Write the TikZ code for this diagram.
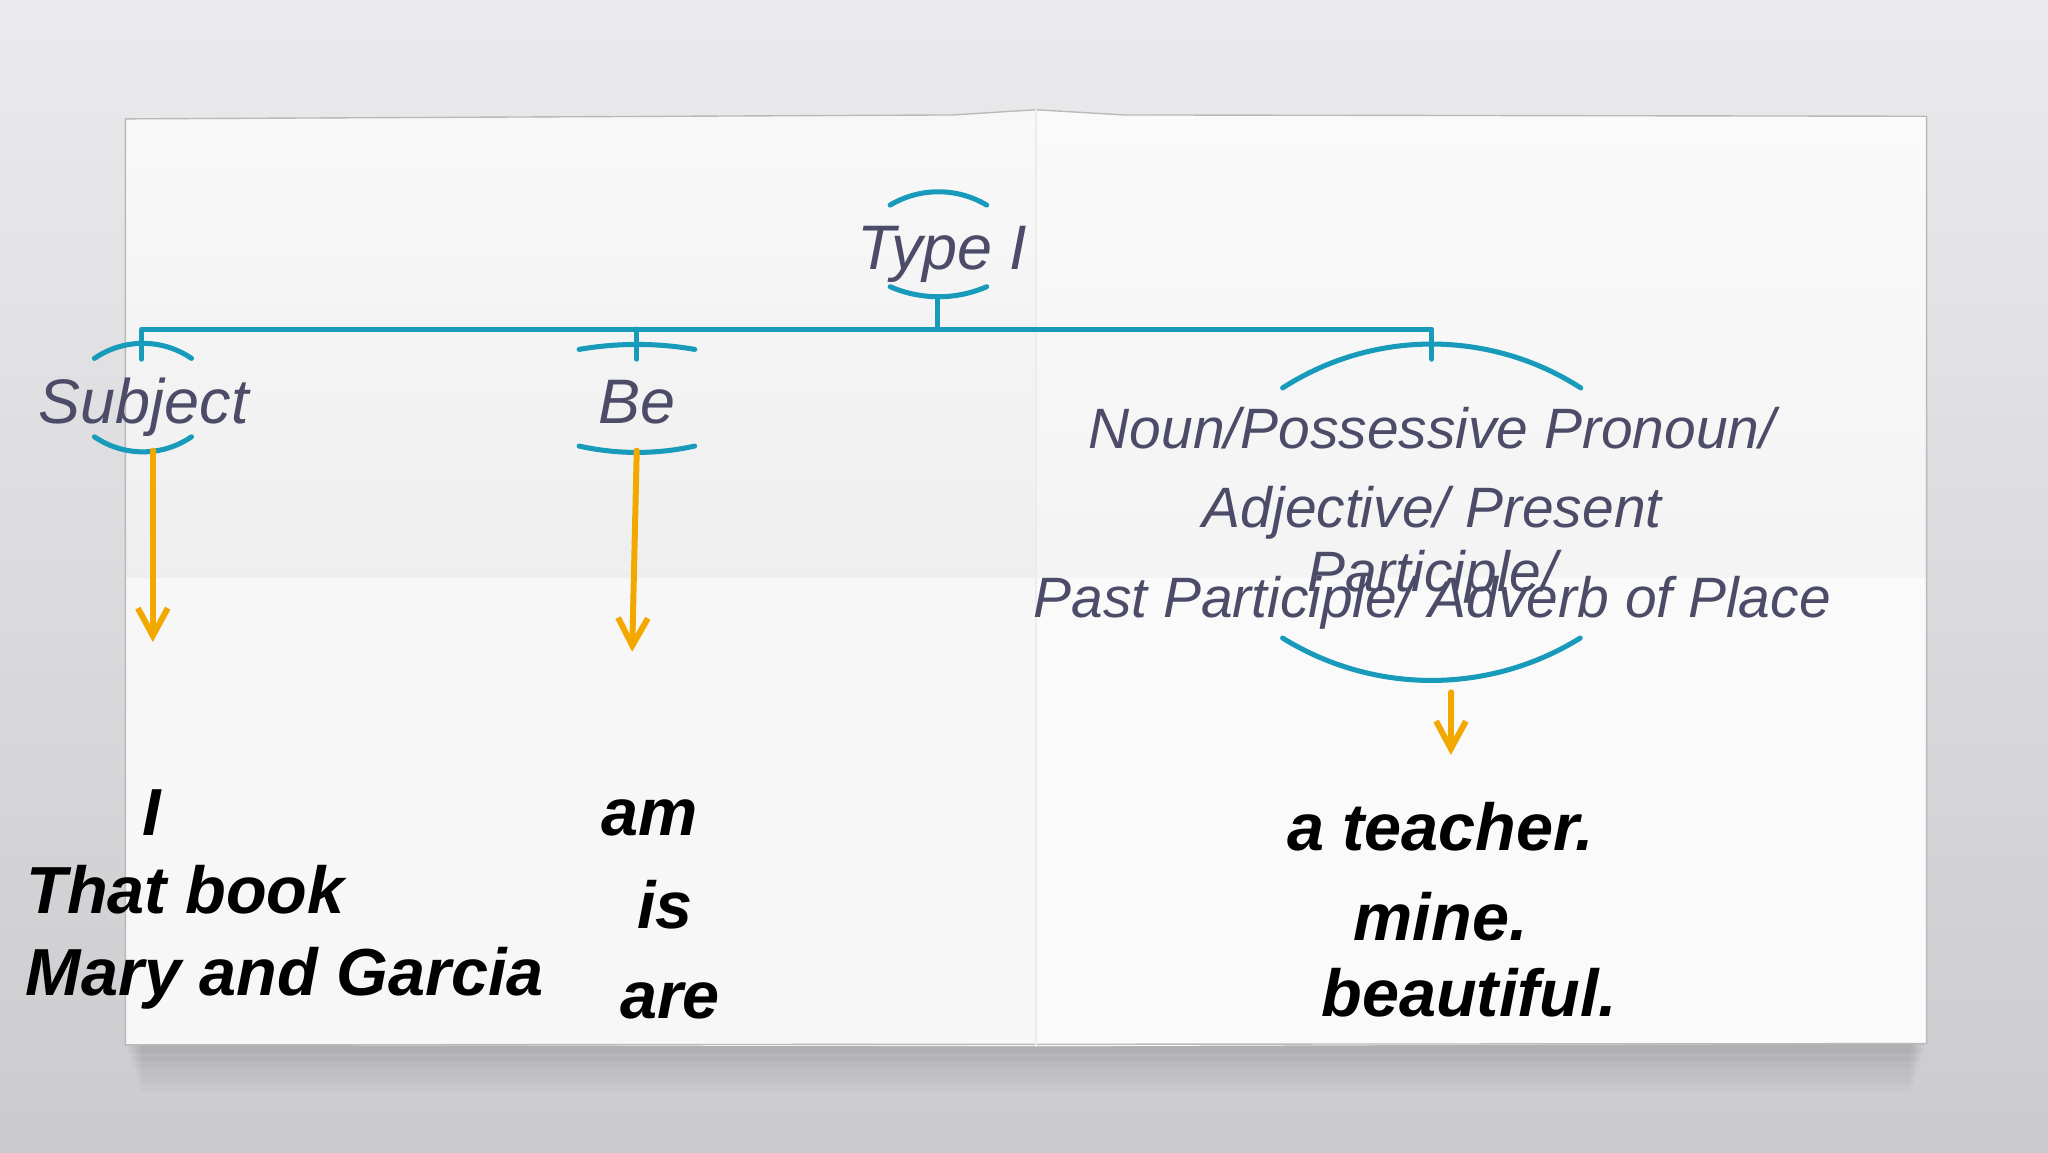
\documentclass[tikz,border=0pt]{standalone}
\usepackage{fontspec}
\setmainfont{Liberation Sans}
\usetikzlibrary{arrows.meta}
\definecolor{lineteal}{RGB}{24,155,186}
\definecolor{arrowgold}{RGB}{243,168,0}
\definecolor{labelslate}{RGB}{76,76,104}
\definecolor{deskgray}{RGB}{226,226,230}
\tikzset{
  brace/.style={lineteal, line width=1.1pt},
  tree/.style={lineteal, line width=1.1pt},
  pointer/.style={arrowgold, line width=1.3pt, -{Straight Barb[length=6pt,width=6.5pt]}},
  head/.style={labelslate, font=\fontsize{13.7}{16}\selectfont\itshape, anchor=base, inner sep=0pt},
  subhead/.style={labelslate, font=\fontsize{12.4}{15}\selectfont\itshape, anchor=base, inner sep=0pt},
  word/.style={black, font=\fontsize{14.5}{17}\selectfont\bfseries\itshape, anchor=base, inner sep=0pt},
}
\begin{document}
\begin{tikzpicture}[line join=round, line cap=round]
  % desk and paper
  \useasboundingbox (0,0) rectangle (15.68,8.82);
  \shade[top color=deskgray!70!white, bottom color=deskgray!90!black] (0,0) rectangle (15.68,8.82);
  \foreach \d in {0.36,0.30,0.24,0.18,0.12,0.06} \fill[black, opacity=0.025] (0.96+\d/3,0.82-\d) rectangle (14.75-\d/3,1.2);
  \fill[gray!6] (0.96,0.82)--(0.96,7.91)--(7.3,7.94)--(7.93,7.98)--(7.93,0.81)--cycle;
  \fill[gray!4] (7.93,0.81)--(7.93,7.98)--(8.6,7.94)--(14.75,7.93)--(14.75,0.83)--cycle;
  \shade[top color=gray!5, bottom color=gray!13] (0.97,4.40) rectangle (7.92,7.90);
  \shade[top color=gray!4, bottom color=gray!9] (7.94,4.40) rectangle (14.74,7.92);
  \draw[gray!55, line width=0.3pt] (0.96,0.82)--(0.96,7.91)--(7.3,7.94)--(7.93,7.98)--(8.6,7.94)--(14.75,7.93)--(14.75,0.83)--cycle;
  \draw[gray!15, line width=0.4pt] (7.93,0.81)--(7.93,7.98);

  % labels
  \node[head] (type) at (7.215,6.753) {Type I};
  \node[head] (subj) at (1.10,5.58) {Subject};
  \node[head] (be) at (4.88,5.58) {Be};
  \node[subhead] (noun1) at (10.965,5.39) {Noun/Possessive Pronoun/};
  \node[subhead] (noun2) at (10.965,4.785) {Adjective/ Present};
  \node[subhead] (noun3) at (10.965,4.29) {Participle/};
  \node[subhead] (noun4) at (10.965,4.09) {Past Participle/ Adverb of Place};

  % brackets
  \draw[brace] (6.815,7.25) arc[start angle=120.8, end angle=59.2, radius=0.722];
  \draw[brace] (6.815,6.625) arc[start angle=246.5, end angle=293.5, radius=0.9275];
  \draw[brace] (0.723,6.076) arc[start angle=124.5, end angle=55.5, radius=0.656];
  \draw[brace] (0.723,5.476) arc[start angle=235.5, end angle=304.5, radius=0.656];
  \draw[brace] (4.434,6.145) arc[start angle=99.8, end angle=80.2, radius=2.601];
  \draw[brace] (4.434,5.405) arc[start angle=257.4, end angle=282.6, radius=2.027];
  \draw[brace] (9.82,5.85) arc[start angle=122.8, end angle=57.2, radius=2.107];
  \draw[brace] (9.82,3.935) arc[start angle=238.2, end angle=301.8, radius=2.162];

  % tree
  \coordinate (bus) at (0,6.30);
  \coordinate (typefoot) at (7.18,6.548);
  \coordinate (subjtop) at (1.085,6.07);
  \coordinate (betop) at (4.875,6.07);
  \coordinate (nountop) at (10.963,6.07);
  \draw[tree] (typefoot) -- (typefoot |- bus);
  \draw[tree] (subjtop) |- (nountop |- bus) -- (nountop);
  \draw[tree] (betop) -- (betop |- bus);

  % examples
  \node[word] (i) at (1.16,2.425) {I};
  \node[word] (book) at (1.42,1.827) {That book};
  \node[word] (mary) at (2.18,1.20) {Mary and Garcia};
  \node[word] (am) at (4.97,2.425) {am};
  \node[word] (is) at (5.09,1.714) {is};
  \node[word] (are) at (5.13,1.024) {are};
  \node[word] (teacher) at (11.03,2.31) {a teacher.};
  \node[word] (mine) at (11.03,1.623) {mine.};
  \node[word] (beautiful) at (11.25,1.035) {beautiful.};

  % arrows
  \coordinate (subjfoot) at (1.17,5.37);
  \coordinate (subjtip) at (1.17,3.905);
  \coordinate (befoot) at (4.875,5.37);
  \coordinate (betip) at (4.84,3.83);
  \coordinate (nounfoot) at (11.11,3.52);
  \coordinate (nountip) at (11.108,3.04);
  \draw[pointer] (subjfoot) -- (subjtip);
  \draw[pointer] (befoot) -- (betip);
  \draw[pointer] (nounfoot) -- (nountip);
\end{tikzpicture}
\end{document}
